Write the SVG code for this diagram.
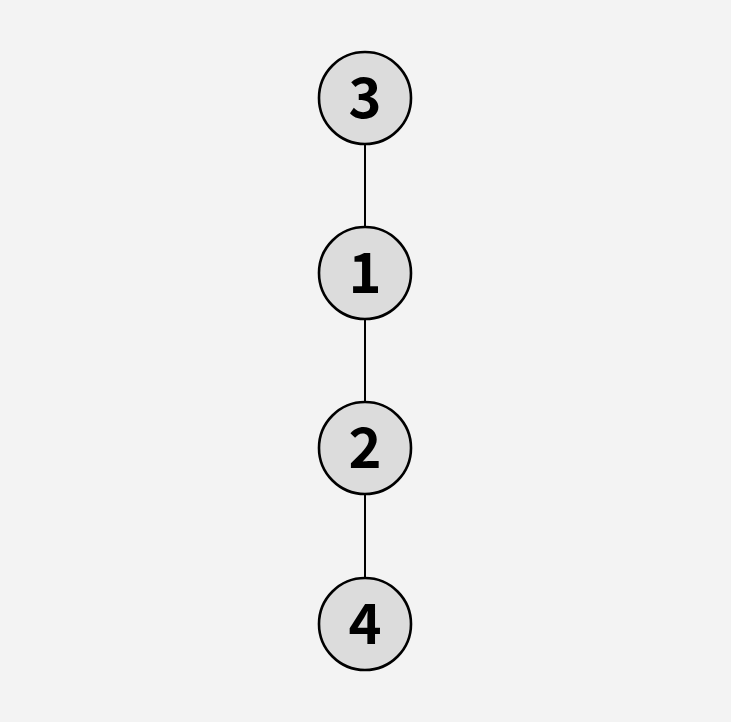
<svg xmlns="http://www.w3.org/2000/svg" width="731" height="722" viewBox="0 0 731 722">
<style>
.n circle{fill:#dcdcdc;stroke:#000;stroke-width:2.6}
.n text{font-family:"Noto Sans CJK SC","Noto Sans",sans-serif;font-weight:bold;font-size:56px;text-anchor:middle;fill:#000}
.e line{stroke:#000;stroke-width:2}
</style>
<rect width="731" height="722" fill="#f3f3f3"/>
<g id="edges" class="e">
<line x1="365" y1="98" x2="365" y2="273"/>
<line x1="365" y1="273" x2="365" y2="448"/>
<line x1="365" y1="448" x2="365" y2="624"/>
</g>
<g id="node3" class="n"><circle cx="365" cy="98" r="46"/><text x="365" y="118">3</text></g>
<g id="node1" class="n"><circle cx="365" cy="273" r="46"/><text x="365" y="293">1</text></g>
<g id="node2" class="n"><circle cx="365" cy="448" r="46"/><text x="365" y="468">2</text></g>
<g id="node4" class="n"><circle cx="365" cy="624" r="46"/><text x="365" y="644">4</text></g>
</svg>
